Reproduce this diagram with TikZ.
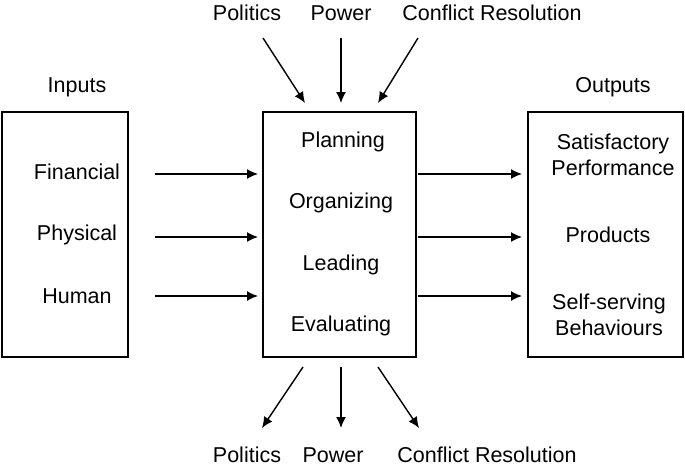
\documentclass[tikz,border=0pt]{standalone}
\usepackage{fontspec}
\setmainfont{Liberation Sans}
\usetikzlibrary{arrows.meta}
\begin{document}
\begin{tikzpicture}[x=1pt,y=-1pt,
  box/.style={draw,line width=1.4pt},
  lbl/.style={font=\fontsize{21.5}{26}\selectfont,align=center,inner sep=0},
  arr/.style={line width=1.4pt,-{Latex[length=11pt,width=10pt]}}]
\useasboundingbox (0,0) rectangle (685,467);
\draw[box] (2,112) rectangle (128,357);
\draw[box] (263,112) rectangle (416,357);
\draw[box] (528,112) rectangle (683,357);
\node[lbl] (in) at (77,87) {Inputs};
\node[lbl] (out) at (613,87) {Outputs};
\node[lbl] (fin) at (77,172) {Financial};
\node[lbl] (phy) at (77,235) {Physical};
\node[lbl] (hum) at (77,296) {Human};
\node[lbl] (pl) at (343,142) {Planning};
\node[lbl] (org) at (341,203) {Organizing};
\node[lbl] (lea) at (341,265) {Leading};
\node[lbl] (eva) at (341,326) {Evaluating};
\node[lbl] (sat) at (613,155) {Satisfactory\\Performance};
\node[lbl] (pro) at (608,235) {Products};
\node[lbl] (sel) at (609,315) {Self-serving\\Behaviours};
\node[lbl] (tp) at (247,13) {Politics};
\node[lbl] (tw) at (341,13) {Power};
\node[lbl] (tc) at (492,13) {Conflict Resolution};
\node[lbl] (bp) at (247,455) {Politics};
\node[lbl] (bw) at (333,455) {Power};
\node[lbl] (bc) at (487,455) {Conflict Resolution};
\foreach \y/\n in {174/a,237/b,296/c}{
  \coordinate (l\n1) at (155,\y); \coordinate (l\n2) at (258,\y);
  \coordinate (r\n1) at (418,\y); \coordinate (r\n2) at (522,\y);
  \draw[arr] (l\n1) -- (l\n2);
  \draw[arr] (r\n1) -- (r\n2);}
\coordinate (t1a) at (263,38); \coordinate (t1b) at (305,103);
\coordinate (t2a) at (341,38); \coordinate (t2b) at (341,103);
\coordinate (t3a) at (418,38); \coordinate (t3b) at (378,103);
\coordinate (b1a) at (303,367); \coordinate (b1b) at (262,428);
\coordinate (b2a) at (341,367); \coordinate (b2b) at (341,428);
\coordinate (b3a) at (378,367); \coordinate (b3b) at (419,428);
\foreach \n in {t1,t2,t3,b1,b2,b3}{\draw[arr] (\n a) -- (\n b);}
\end{tikzpicture}
\end{document}
